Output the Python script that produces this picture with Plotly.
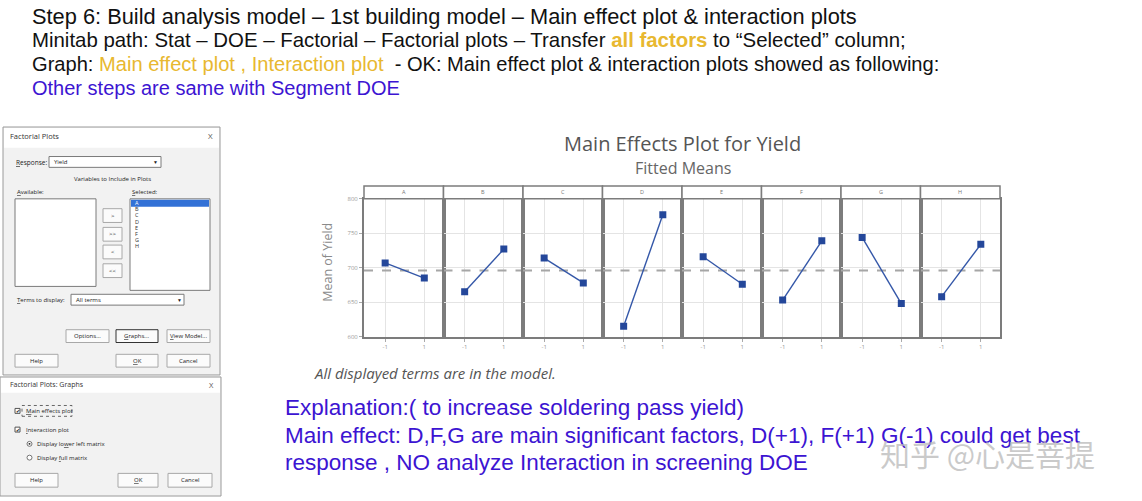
import plotly.graph_objects as go

# ---------------- data ----------------
factors = ["A", "B", "C", "D", "E", "F", "G", "H"]
levels = [-1, 1]
level_labels = ["-1", "1"]
mean_low = [707, 665, 714, 615, 716, 653, 744, 658]
mean_high = [685, 727, 678, 777, 676, 739, 648, 734]
y_ticks = [600, 650, 700, 750, 800]
y_tick_labels = ["600", "650", "700", "750", "800"]

W, H = 1142, 501
def px(x): return x / W
def py(y): return 1 - y / H

BLUE_TXT = "#3C14D2"
GOLD = "#E8B830"
ARIAL = "Liberation Sans, Arial, sans-serif"
UI = "Open Sans, Noto Sans, sans-serif"

fig = go.Figure()
shapes = []
annots = []

def rect(x0, y0, x1, y1, fill="white", line="#8a8a8a", lw=1, dash="solid"):
    shapes.append(dict(type="rect", xref="paper", yref="paper",
                       x0=px(x0), x1=px(x1), y0=py(y1), y1=py(y0),
                       fillcolor=fill, line=dict(color=line, width=lw, dash=dash), layer="above"))

def txt(x, y, s, size=6, color="#222", anchor="left", font=UI, angle=0):
    annots.append(dict(x=px(x), y=py(y), xref="paper", yref="paper", text=s, showarrow=False,
                       xanchor=anchor, yanchor="middle", textangle=angle,
                       font=dict(size=size, color=color, family=font)))

def btn(x0, y0, x1, y1, label, line="#a8a8a8"):
    rect(x0, y0, x1, y1, fill="#fbfbfb", line=line)
    txt((x0 + x1) / 2, (y0 + y1) / 2, label, 6, anchor="center")

# ---------------- header text ----------------
txt(30, 13, "Step 6: Build analysis model – 1st building model – Main effect plot &amp; interaction plots", 21.8, "#111", font=ARIAL)
txt(30, 37, "Minitab path: Stat – DOE – Factorial – Factorial plots – Transfer "
            f"<b><span style='color:{GOLD}'>all factors</span></b> to “Selected” column;", 20.4, "#111", font=ARIAL)
txt(30, 61, f"Graph: <span style='color:{GOLD}'>Main effect plot , Interaction plot</span>  - OK: Main effect plot &amp; interaction plots showed as following:", 20.1, "#111", font=ARIAL)
txt(30, 85, "Other steps are same with Segment DOE", 20, BLUE_TXT, font=ARIAL)

# ---------------- dialog 1 ----------------
rect(3, 125, 220, 377, fill="#f2f2f2", line="#9a9a9a")
rect(4, 126, 219, 146, fill="white", line="white", lw=0)
txt(8, 134, "Factorial Plots", 7.5, "#333")
txt(210, 134, "X", 8, "#555", anchor="center")
txt(14, 161, "<u>R</u>esponse:", 6.5)
rect(49, 155, 161, 166, "white", "#7a7a7a")
txt(52, 160.5, "Yield", 6)
txt(156, 160.5, "▼", 5, "#222", anchor="center")
txt(112, 178, "Variables to Include in Plots", 6, anchor="center")
txt(15, 191, "<u>A</u>vailable:", 6)
rect(15, 198, 96, 287, "white", "#7a7a7a")
txt(130, 191, "<u>S</u>elected:", 6)
rect(130, 198, 210, 291, "white", "#7a7a7a")
rect(131, 199, 209, 206, "#3371d6", "#3371d6", 0)
for k, f in enumerate(factors):
    txt(133, 202.5 + k * 6.2, f, 5.5, "white" if k == 0 else "#333")
btn(103, 208, 122, 222, "&gt;")
btn(103, 227, 122, 241, "&gt;&gt;")
btn(103, 245, 122, 259, "&lt;")
btn(103, 264, 122, 278, "&lt;&lt;")
txt(15, 301, "<u>T</u>erms to display:", 6)
rect(71, 295, 184, 306, "white", "#7a7a7a")
txt(74, 300.5, "All terms", 6)
txt(179, 300.5, "▼", 5, "#222", anchor="center")
btn(66, 331, 109, 344, "Options...")
btn(116, 331, 158, 344, "<u>G</u>raphs...", line="#333")
btn(167, 331, 210, 344, "<u>V</u>iew Model...")
btn(15, 356, 58, 369, "Help")
btn(116, 356, 158, 369, "<u>O</u>K")
btn(167, 356, 210, 369, "Cancel")

# ---------------- dialog 2 ----------------
rect(0, 379, 221, 500, fill="#f2f2f2", line="#9a9a9a")
rect(1, 380, 220, 395, fill="white", line="white", lw=0)
txt(8, 387, "Factorial Plots: Graphs", 7, "#333")
txt(212, 387, "X", 7.5, "#555", anchor="center")
rect(15, 411, 20, 416, "white", "#555")
txt(17.5, 413.5, "✔", 5, "#111", anchor="center")
rect(22, 408, 72, 419, "rgba(0,0,0,0)", "#444", 0.8, "dot")
txt(24, 413.5, "<u>M</u>ain effects plot", 6)
rect(15, 430, 20, 435, "white", "#555")
txt(17.5, 432.5, "✔", 5, "#111", anchor="center")
txt(24, 432.5, "<u>I</u>nteraction plot", 6)
shapes.append(dict(type="circle", xref="paper", yref="paper", x0=px(27), x1=px(32), y0=py(449.5), y1=py(444.5),
                   fillcolor="white", line=dict(color="#555", width=0.8)))
shapes.append(dict(type="circle", xref="paper", yref="paper", x0=px(28.5), x1=px(30.5), y0=py(448), y1=py(446),
                   fillcolor="#222", line=dict(width=0)))
txt(35, 447, "Display lo<u>w</u>er left matrix", 6)
shapes.append(dict(type="circle", xref="paper", yref="paper", x0=px(27), x1=px(32), y0=py(463.5), y1=py(458.5),
                   fillcolor="white", line=dict(color="#555", width=0.8)))
txt(35, 461, "Display <u>f</u>ull matrix", 6)
btn(15, 477, 58, 491, "Help")
btn(118, 477, 158, 491, "<u>O</u>K")
btn(168, 477, 212, 491, "Cancel")

# ---------------- main effects plot ----------------
x_left, x_right = 364, 1000
y_top, y_bot = 198, 338
x_range = [-2.08, 1.98]
pw = (x_right - x_left) / len(factors)
grand_mean = (sum(mean_low) + sum(mean_high)) / (2 * len(factors))

layout_axes = {}
for i, f in enumerate(factors):
    xa = "x" if i == 0 else f"x{i+1}"
    ya = "y" if i == 0 else f"y{i+1}"
    # reference (grand mean) line across the panel
    fig.add_trace(go.Scatter(
        x=x_range, y=[grand_mean, grand_mean], xaxis=xa, yaxis=ya, mode="lines",
        line=dict(color="#a6a6a6", width=2, dash="dash"),
        showlegend=False, hoverinfo="skip", cliponaxis=False))
    fig.add_trace(go.Scatter(
        x=levels, y=[mean_low[i], mean_high[i]], xaxis=xa, yaxis=ya,
        mode="lines+markers",
        line=dict(color="#3457a8", width=1.4),
        marker=dict(symbol="square", size=7, color="#24479a"),
        showlegend=False, hoverinfo="skip"))
    d0, d1 = px(x_left + i * pw), px(x_left + (i + 1) * pw)
    layout_axes["xaxis" if i == 0 else f"xaxis{i+1}"] = dict(
        domain=[d0, d1], anchor=ya, range=x_range,
        tickvals=levels, ticktext=level_labels, tickfont=dict(size=6, color="#9a9a9a"),
        ticks="outside", ticklen=3, tickcolor="#aaa",
        showgrid=True, gridcolor="#e4e4e4", gridwidth=1, zeroline=False,
        showline=True, mirror=True, linecolor="#7c7c7c", linewidth=2, fixedrange=True)
    layout_axes["yaxis" if i == 0 else f"yaxis{i+1}"] = dict(
        domain=[py(y_bot), py(y_top)], anchor=xa, range=[y_ticks[0], y_ticks[-1]],
        tickvals=y_ticks, ticktext=y_tick_labels, showticklabels=(i == 0),
        tickfont=dict(size=6, color="#9a9a9a"),
        ticks="outside" if i == 0 else "", ticklen=3, tickcolor="#aaa",
        showgrid=True, gridcolor="#e4e4e4", gridwidth=1, zeroline=False,
        showline=True, mirror=True, linecolor="#7c7c7c", linewidth=2, fixedrange=True)
    # strip header
    shapes.append(dict(type="rect", xref="paper", yref="paper", x0=d0, x1=d1,
                       y0=py(y_top), y1=py(185), fillcolor="white",
                       line=dict(color="#7c7c7c", width=1.5)))
    txt(x_left + (i + 0.5) * pw, 191.5, f, 5.5, "#777", anchor="center")

txt(683, 142, "Main Effects Plot for Yield", 20, "#555", anchor="center", font=UI)
txt(683, 167, "Fitted Means", 16, "#666", anchor="center", font=UI)
txt(328, 262, "Mean of Yield", 12.5, "#8a8a8a", anchor="center", font=UI, angle=-90)
txt(312, 375, "<i>All displayed terms are in the model.</i>", 15, "#555", font=UI)

# ---------------- explanation ----------------
txt(283, 410, "Explanation:( to increase soldering pass yield)", 22.5, BLUE_TXT, font=ARIAL)
txt(283, 438, "Main effect: D,F,G are main significant factors, D(+1), F(+1) G(-1) could get best", 22.5, BLUE_TXT, font=ARIAL)
txt(283, 466, "response , NO analyze Interaction in screening DOE", 22.5, BLUE_TXT, font=ARIAL)
txt(987, 456, "知乎 @心是菩提", 30, "rgba(185,185,185,0.75)", anchor="center", font="Noto Sans CJK SC")

fig.update_layout(width=W, height=H, margin=dict(l=0, r=0, t=0, b=0),
                  paper_bgcolor="white", plot_bgcolor="white",
                  shapes=shapes, annotations=annots, **layout_axes)
fig.write_html("out.html")
